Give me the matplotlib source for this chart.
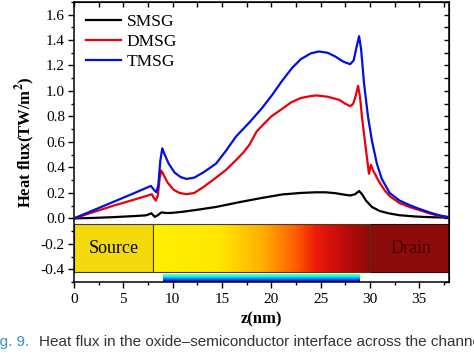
import numpy as np
import matplotlib
matplotlib.use("Agg")
from matplotlib import pyplot as plt
from matplotlib.colors import LinearSegmentedColormap
from matplotlib.patches import Rectangle
from matplotlib.ticker import MultipleLocator, FormatStrFormatter

# ================================================================
# 0. Section: DATA
# ================================================================
smsg_x = [0, 2, 4, 6, 7.3, 7.85, 8.2, 8.5, 8.85, 9.4, 10.0, 11.0, 12.7, 14.4,
          16.8, 19.0, 21.1, 23.0, 24.5, 25.5, 26.5, 27.5, 28.0, 28.5, 28.9,
          29.2, 29.6, 30.2, 31.0, 31.9, 33.0, 34.6, 36.0, 38.0]
smsg_y = [0, 0.004, 0.01, 0.018, 0.024, 0.04, 0.012, 0.025, 0.047, 0.042,
          0.044, 0.052, 0.07, 0.09, 0.128, 0.16, 0.188, 0.2, 0.205, 0.205,
          0.198, 0.185, 0.18, 0.19, 0.215, 0.19, 0.14, 0.09, 0.058, 0.04,
          0.025, 0.015, 0.01, 0.006]

dmsg_x = [0, 2, 4, 6, 7.5, 7.9, 8.1, 8.3, 8.5, 8.7, 8.85, 9.1, 9.5, 10.1,
          10.7, 11.4, 12.2, 13.2, 14.4, 15.4, 16.4, 17.2, 17.8, 18.5, 19.1,
          20.0, 21.1, 22.0, 23.0, 24.0, 24.6, 25.7, 26.9, 27.5, 28.0, 28.3,
          28.55, 28.8, 29.0, 29.2, 29.5, 29.9, 30.1, 30.3, 30.9, 31.5, 32.0,
          33.0, 34.0, 35.0, 36.0, 37.0, 38.0]
dmsg_y = [0, 0.05, 0.1, 0.145, 0.18, 0.19, 0.16, 0.14, 0.18, 0.32, 0.376,
          0.34, 0.28, 0.225, 0.2, 0.19, 0.2, 0.25, 0.32, 0.38, 0.455, 0.52,
          0.58, 0.68, 0.73, 0.8, 0.86, 0.91, 0.945, 0.96, 0.965, 0.955, 0.93,
          0.9, 0.88, 0.9, 0.96, 1.04, 0.95, 0.79, 0.6, 0.35, 0.42, 0.38, 0.29,
          0.22, 0.175, 0.12, 0.09, 0.065, 0.04, 0.02, 0.008]

tmsg_x = [0, 2, 4, 6, 7.5, 7.8, 8.1, 8.35, 8.55, 8.75, 8.95, 9.2, 9.6, 10.2,
          10.8, 11.4, 12.2, 13.2, 14.4, 15.4, 16.4, 17.8, 19.0, 20.1, 21.1,
          22.1, 23.0, 24.0, 24.8, 25.7, 26.5, 27.3, 28.0, 28.35, 28.6, 28.9,
          29.1, 29.4, 29.8, 30.2, 30.7, 31.2, 32.0, 33.0, 34.0, 35.0, 36.0,
          37.0, 38.0]
tmsg_y = [0, 0.065, 0.13, 0.195, 0.245, 0.255, 0.225, 0.205, 0.26, 0.45, 0.55,
          0.5, 0.43, 0.36, 0.325, 0.31, 0.32, 0.365, 0.43, 0.53, 0.64, 0.755,
          0.86, 0.97, 1.08, 1.18, 1.25, 1.295, 1.31, 1.30, 1.27, 1.23, 1.21,
          1.24, 1.33, 1.43, 1.33, 1.06, 0.8, 0.61, 0.43, 0.31, 0.2, 0.14,
          0.105, 0.075, 0.048, 0.025, 0.01]

series_labels = ["SMSG", "DMSG", "TMSG"]
series_colors = ["black", "#e8000b", "#0010e0"]

# device regions (nm)
source_end = 8
drain_start = 30
device_end = 38
oxide_start = 9
oxide_end = 28.9

# ================================================================
# 1. Section: FIGURE
# ================================================================
plt.rcParams["font.family"] = ["Liberation Serif", "DejaVu Serif"]
plt.rcParams["mathtext.fontset"] = "stix"

fig = plt.figure(figsize=(4.74, 3.54), dpi=100)
ax = fig.add_axes((0.156, 0.203, 0.791, 0.792))

ax.set_xlim(0, 38)
ax.set_ylim(-0.5, 1.7)

# ──────────────────────────────────────────────────────
# 1.1 Subsection: device sketch under the curves
# ──────────────────────────────────────────────────────
rect_top = -0.047
rect_bottom = -0.42
edge = "#4a3a10"

ax.add_patch(Rectangle((0, rect_bottom), source_end, rect_top - rect_bottom,
                       facecolor="#f4d90c", edgecolor=edge, lw=0.8, zorder=1))

channel_cmap = LinearSegmentedColormap.from_list(
    "channel",
    [(0.0, "#fff000"), (0.3, "#ffe800"), (0.5, "#ffb000"),
     (0.65, "#ff6000"), (0.75, "#ee1a0a"), (0.87, "#c00c0c"), (1.0, "#8e0a0a")],
)
ax.imshow(np.linspace(0, 1, 256)[None, :], cmap=channel_cmap, aspect="auto",
          extent=(source_end, drain_start, rect_bottom, rect_top), zorder=1)
ax.add_patch(Rectangle((source_end, rect_bottom), drain_start - source_end,
                       rect_top - rect_bottom, fill=False, edgecolor=edge,
                       lw=0.8, zorder=2))
ax.add_patch(Rectangle((drain_start, rect_bottom), device_end - drain_start,
                       rect_top - rect_bottom, facecolor="#8c0b0b",
                       edgecolor="#3a0000", lw=0.8, zorder=1))

oxide_cmap = LinearSegmentedColormap.from_list(
    "oxide", plt.get_cmap("jet")(np.linspace(0.5, 0.08, 64)))
ax.imshow(np.linspace(0, 1, 64)[:, None], cmap=oxide_cmap, aspect="auto",
          extent=(oxide_start, oxide_end, -0.5, -0.44), zorder=1)

ax.text(4.0, -0.235, "Source", ha="center", va="center", fontsize=13)
ax.text(34.2, -0.235, "Drain", ha="center", va="center", fontsize=13,
        color="#4a0000")

# ──────────────────────────────────────────────────────
# 1.2 Subsection: curves
# ──────────────────────────────────────────────────────
for xs, ys, label, color in zip([smsg_x, dmsg_x, tmsg_x],
                                [smsg_y, dmsg_y, tmsg_y],
                                series_labels, series_colors):
    ax.plot(xs, ys, color=color, lw=1.6, label=label, zorder=3,
            solid_joinstyle="round")

ax.legend(loc="upper left", bbox_to_anchor=(0.0, 1.0), frameon=False,
          fontsize=12.5, handlelength=2.0, handletextpad=0.35,
          labelspacing=0.22, borderaxespad=0.3)

# ──────────────────────────────────────────────────────
# 1.3 Subsection: axes styling
# ──────────────────────────────────────────────────────
ax.set_xticks(np.arange(0, 36, 5))
ax.set_yticks(np.round(np.arange(-0.4, 1.61, 0.2), 1))
ax.yaxis.set_major_formatter(FormatStrFormatter("%.1f"))
ax.xaxis.set_minor_locator(MultipleLocator(2.5))
ax.yaxis.set_minor_locator(MultipleLocator(0.1))
ax.tick_params(which="major", direction="out", length=4, width=1,
               labelsize=11, pad=2.5)
ax.tick_params(axis="x", which="major", pad=4)
ax.tick_params(which="minor", direction="out", length=2.5, width=1)
for spine in ax.spines.values():
    spine.set_linewidth(1.1)

top = ax.secondary_xaxis("top")
top.set_xticks(np.arange(0, 36, 5))
top.xaxis.set_minor_locator(MultipleLocator(2.5))
top.tick_params(which="both", direction="in", length=3.5, width=1,
                labeltop=False)
right = ax.secondary_yaxis("right")
right.set_yticks(np.round(np.arange(-0.4, 1.61, 0.2), 1))
right.yaxis.set_minor_locator(MultipleLocator(0.1))
right.tick_params(which="both", direction="in", length=3.5, width=1,
                  labelright=False)

ax.set_xlabel("z(nm)", fontsize=12, fontweight="bold", labelpad=4)
ax.set_ylabel(r"Heat flux(TW/m$^\mathbf{2}$)", fontsize=12,
              fontweight="bold", labelpad=3)

# caption, cut off at the figure edges like the source image
fig.text(0.062, 0.022, "Fig. 9.", ha="right", va="baseline", fontsize=11,
         color="#3a8fd0", family="Liberation Sans")
fig.text(0.082, 0.022,
         "Heat flux in the oxide\u2013semiconductor interface across the channel",
         ha="left", va="baseline", fontsize=11, color="#333333",
         family="Liberation Sans")

fig.savefig("out.png", dpi=100)
